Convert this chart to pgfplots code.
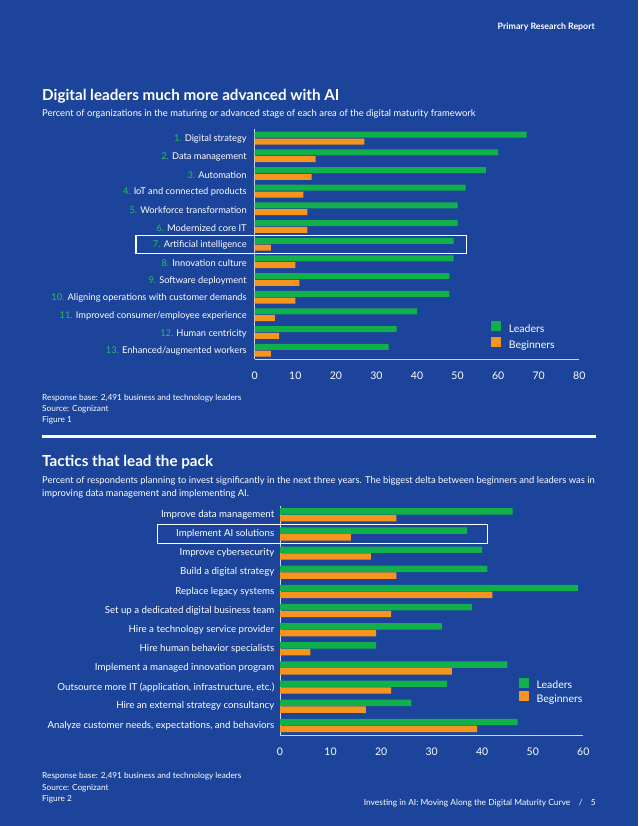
\documentclass[border=0pt]{standalone}
\usepackage{pgfplots}
\pgfplotsset{compat=1.18}
\usepackage{fontspec}
\setmainfont{Lato}

\definecolor{bgblue}{HTML}{1B449A}
\definecolor{lgreen}{HTML}{12B04B}
\definecolor{borange}{HTML}{F7941D}
\definecolor{numgreen}{HTML}{22C25C}
\definecolor{axisline}{HTML}{C9D5F2}

\newcommand{\n}[1]{\textcolor{numgreen}{#1.}}

\pgfplotsset{
  hbars/.style={
    xbar, scale only axis, clip=false,
    axis x line*=bottom, axis y line*=left,
    axis line style={axisline, line width=0.8pt},
    major tick length=0pt,
    enlargelimits=false,
    bar width=6pt,
    tick label style={text=white},
    xticklabel style={font=\fontsize{10.5}{12}\selectfont, anchor=center, yshift=-16.7pt},
    /pgf/number format/assume math mode=true,
    legend cell align=left,
    legend image code/.code={\fill[##1] (0pt,-2pt) rectangle (10pt,8pt);},
    legend style={draw=none, fill=none, text=white, inner sep=0pt,
      nodes={inner sep=0pt}, column sep=8pt,
      font=\fontsize{10.5}{12}\selectfont, anchor=north west},
  },
  leaders/.style={fill=lgreen, draw=none, bar shift=3.4pt},
  beginners/.style={fill=borange, draw=none, bar shift=-3.4pt},
}

\begin{document}
\begin{tikzpicture}
\fill[bgblue] (0pt,0pt) rectangle (638pt,-826pt);
\path[use as bounding box] (0pt,0pt) rectangle (638pt,-826pt);

% ---------------- Figure 1 ----------------
\begin{axis}[hbars,
  at={(254.7pt,-359pt)}, anchor=south west,
  width=324.6pt, height=229.7pt,
  xmin=0, xmax=80, ymin=-13.5, ymax=-0.5,
  xtick={0,10,...,80},
  ytick={-1,-2,...,-13},
  yticklabel style={font=\fontsize{9.3}{11}\selectfont, xshift=-4.5pt, yshift=-1.2pt},
  yticklabels={
    {\n{1} Digital strategy},
    {\n{2} Data management},
    {\n{3} Automation},
    {\n{4} IoT and connected products},
    {\n{5} Workforce transformation},
    {\n{6} Modernized core IT},
    {\n{7} Artificial intelligence},
    {\n{8} Innovation culture},
    {\n{9} Software deployment},
    {\n{10} Aligning operations with customer demands},
    {\n{11} Improved consumer/employee experience},
    {\n{12} Human centricity},
    {\n{13} Enhanced/augmented workers}},
  legend style={at={(rel axis cs:0.727,0.1654)}, row sep=3.4pt},
]
\addplot[leaders] coordinates {
  (67,-1) (60,-2) (57,-3) (52,-4) (50,-5) (50,-6) (49,-7)
  (49,-8) (48,-9) (48,-10) (40,-11) (35,-12) (33,-13)};
\addplot[beginners] coordinates {
  (27,-1) (15,-2) (14,-3) (12,-4) (13,-5) (13,-6) (4,-7)
  (10,-8) (11,-9) (10,-10) (5,-11) (6,-12) (4,-13)};
\legend{Leaders, Beginners}
\end{axis}

% ---------------- Figure 2 ----------------
\begin{axis}[hbars,
  at={(280pt,-735pt)}, anchor=south west,
  width=303.3pt, height=228.8pt,
  xmin=0, xmax=60, ymin=-12.5, ymax=-0.55,
  xtick={0,10,...,60},
  ytick={-1,-2,...,-12},
  bar width=6.4pt,
  yticklabel style={font=\fontsize{9.7}{11}\selectfont, xshift=-2.2pt},
  yticklabels={
    {Improve data management},
    {Implement AI solutions},
    {Improve cybersecurity},
    {Build a digital strategy},
    {Replace legacy systems},
    {Set up a dedicated digital business team},
    {Hire a technology service provider},
    {Hire human behavior specialists},
    {Implement a managed innovation program},
    {Outsource more IT (application, infrastructure, etc.)},
    {Hire an external strategy consultancy},
    {Analyze customer needs, expectations, and behaviors}},
  legend style={at={(rel axis cs:0.786,0.252)}, row sep=1.3pt},
]
\addplot[leaders] coordinates {
  (46,-1) (37,-2) (40,-3) (41,-4) (59,-5) (38,-6)
  (32,-7) (19,-8) (45,-9) (33,-10) (26,-11) (47,-12)};
\addplot[beginners] coordinates {
  (23,-1) (14,-2) (18,-3) (23,-4) (42,-5) (22,-6)
  (19,-7) (6,-8) (34,-9) (22,-10) (17,-11) (39,-12)};
\legend{Leaders, Beginners}
\end{axis}

% ---------------- page text ----------------
\begin{scope}[x=1pt, y=-1pt, every node/.style={text=white, inner sep=0pt}]
\node[anchor=east, font=\bfseries\fontsize{8.8}{10}\selectfont] at (595,27) {Primary Research Report};

\node[anchor=base west, font=\bfseries\fontsize{15.2}{18}\selectfont] at (42,101) {Digital leaders much more advanced with AI};
\node[anchor=base west, font=\fontsize{9.4}{11}\selectfont] at (42,117) {Percent of organizations in the maturing or advanced stage of each area of the digital maturity framework};

\draw[white, line width=1.1pt] (136,235.7) rectangle (466.7,253.3);

\node[anchor=base west, font=\fontsize{8.3}{10}\selectfont] at (42,400) {Response base: 2,491 business and technology leaders};
\node[anchor=base west, font=\fontsize{8.3}{10}\selectfont] at (42,411) {Source: Cognizant};
\node[anchor=base west, font=\fontsize{8.3}{10}\selectfont] at (42,422) {Figure 1};

\draw[white, line width=3pt] (42,436) -- (596,436);

\node[anchor=base west, font=\bfseries\fontsize{15.2}{18}\selectfont] at (42,466) {Tactics that lead the pack};
\node[anchor=base west, font=\fontsize{9.4}{11}\selectfont] at (42,483) {Percent of respondents planning to invest significantly in the next three years. The biggest delta between beginners and leaders was in};
\node[anchor=base west, font=\fontsize{9.4}{11}\selectfont] at (42,496) {improving data management and implementing AI.};

\draw[white, line width=1.1pt] (157.3,524.3) rectangle (487.7,543.3);

\node[anchor=base west, font=\fontsize{8.3}{10}\selectfont] at (42,778) {Response base: 2,491 business and technology leaders};
\node[anchor=base west, font=\fontsize{8.3}{10}\selectfont] at (42,790) {Source: Cognizant};
\node[anchor=base west, font=\fontsize{8.3}{10}\selectfont] at (42,801) {Figure 2};
\node[anchor=base east, font=\fontsize{8.4}{10}\selectfont] at (596,805) {Investing in AI: Moving Along the Digital Maturity Curve\quad/\quad5};
\end{scope}
\end{tikzpicture}
\end{document}
